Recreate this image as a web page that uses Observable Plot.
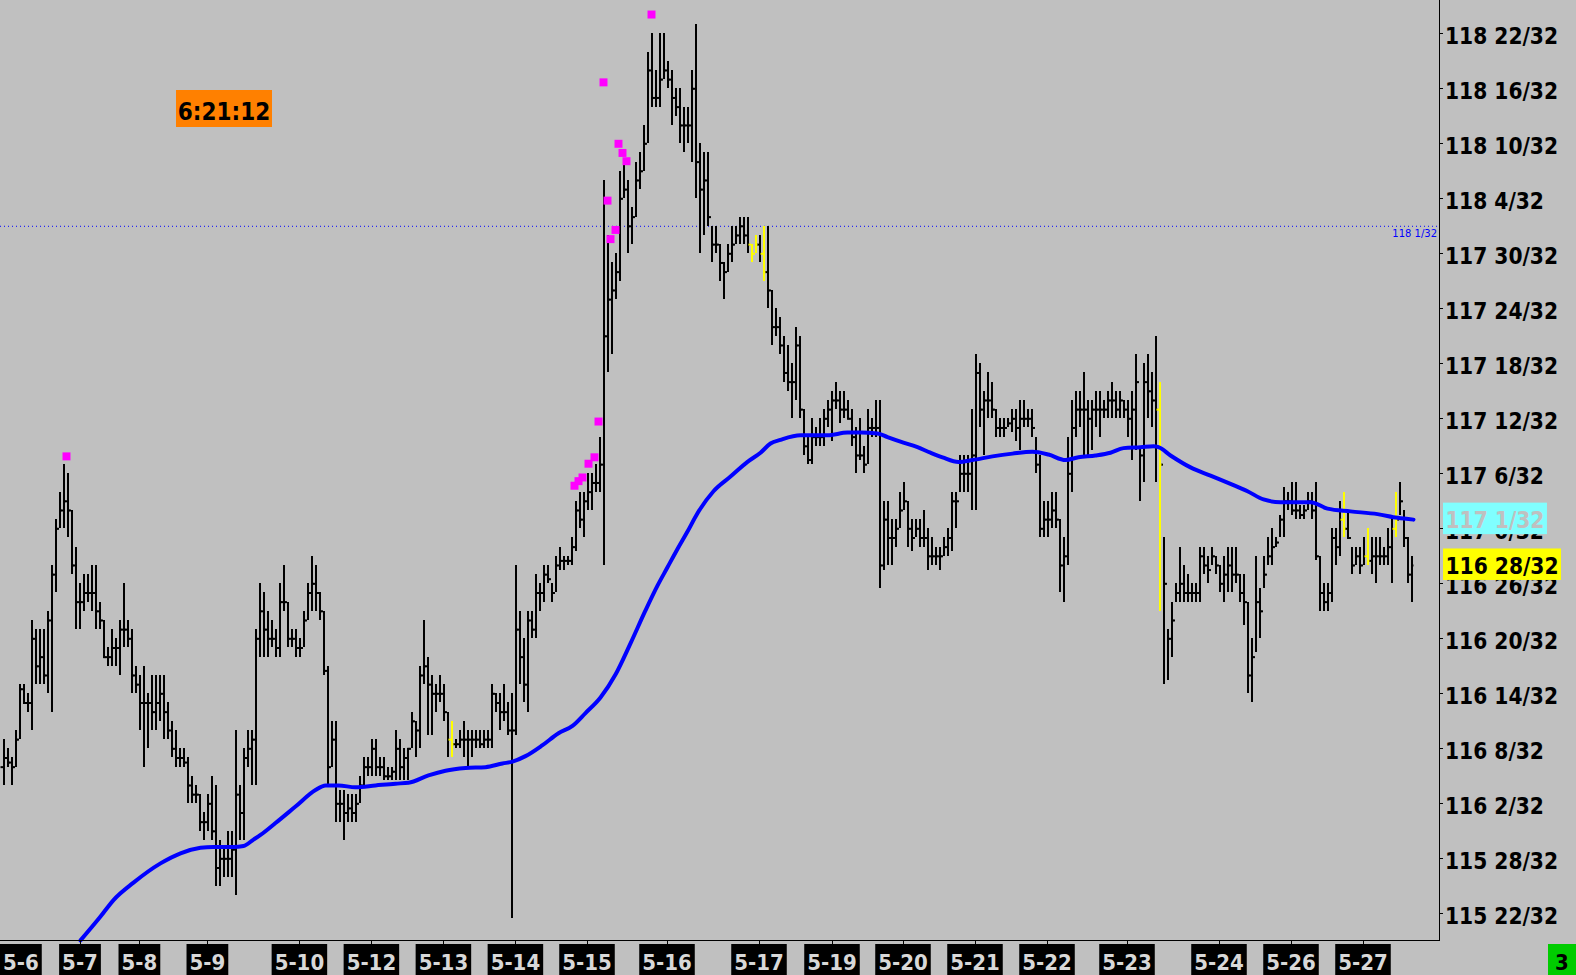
<!DOCTYPE html>
<html><head><meta charset="utf-8">
<script src="https://cdn.jsdelivr.net/npm/d3@7"></script>
<script src="https://cdn.jsdelivr.net/npm/@observablehq/plot@0.6"></script>
<style>
html,body{margin:0;padding:0;background:#c0c0c0;overflow:hidden}
#chart svg{display:block}
</style></head><body><div id="chart"></div>
<script>
// Prices are in 32nds above 115 (e.g. 60 -> 116 28/32). One entry per bar.
const highs = [41,40,39,42,47,47,46,54,53,53,53,55,60,65,68,71,70,66,62,58,59,59,60,60,56,54,51,53,52,54,58,54,53,49,48,49,46,48,48,48,48,45,43,42,40,40,39,37,36,35,33,35,37,36,30,29,31,31,42,36,40,42,42,53,
58,57,55,54,53,58,60,56,53,53,52,55,58,61,60,57,55,49,43,43,35.5,35.5,35,35,35,37,39,39,41,41,39,39,38,38,42,41,40,40,44,43,49,54,
50,48,47,48,47,44,43,41,42,43,42,42,42,42,42,42,47,46,46,47,45,46,60,55,52,55,55,59,58,60,60,58,61,62,61,61,63,67,68,68,70,70,71,74,
102,96,93,94,103,104,102,99,104,105,108,116,118,114,118,118,115,114,112,112,110,110,114,119,106,105,105,97,97,95,93,95,97,97,98,98,98,95,96,96,97,
97,90,88,87,85,84,82,86,85,77,74,76,75,76,77,78,79,80,79,79,78,77,75,76,73,77,76,78,78,67,67,65,65,68,69,67,65,65,65,66,64,
63,62,62,63,64,68,68,72,72,72,77,83,82,79,81,80,77,76,76,76,77,77,78,78,77,77,74,72,67,67,68,68,65,63,74,78,79,79,81,78,78,
79,79,78,79,80,79,79,78,78,79,83,73,82,83,81,85,80,63,53,56,58,62,60,59,58,58,62,62,61,62,61,60,61,62,62,62,59,59,56,52,61,
57.5,61,63,64,63,65.5,68.5,68,69,69,66.5,66.5,68,68,69,61,58,58,64,64,67,68,66,62,62,62,63,64,63,63,63,62,64,65,68,69,66,63,61];
const lows = [36,38,36,38,41,45,44,42,47,47,47,46,44,57,64,64,63,59,53,53,55,56,55,53,53,50,49,49,49,48,51,51,46,46,42,38,40,42,42,43,41,41,39,38,38,38,34,34,34,31,30,31,30,25,25,26,26,26,24,30,30,38,36,36,
50,50,50,51,50,50,55,51,51,50,50,51,54,55,55,54,48,36,38,32,32,30,32,32,32,34,36,37,37,37,37,36.5,36.5,36.5,36.5,36.5,36.5,36.5,40,39,40,47,
41.5,41.5,44,45,43,39,39,40,40,39,38,39,40,40,40,40,40,44,42,43,41.5,21.5,41.5,47,45,44,52,52,55,56,58,56,57,59.5,59.5,60,60,61.5,64,63,66,66,68,68,
60,81,83,89,91,100,94,95,98,101,103,106,110,110,110,113,112,108,109,106,105,106,104,100,94,96,97,93,94,91,89,92,93,95,95,95,94,93,94,93,91,
88,84,85,83,80,79,76,78,76,72,71,71,73,73,73,75,73.5,77,75.5,76,76,73,70,71.5,70,71,74,74,57.5,59.5,60,60,62,64,66,62,61.5,63,62,62,59.5,
60,60,59.5,61,61,61.5,64,68,68,68,66,66,75,72,76,76,74,74,74,75,74.5,73.5,72.5,75,75,74,70,63,63,63,64,64,57,56,60,68,74,75,72,72,72.5,
75,74,76,76,76,76,76,76,74,71.5,72.5,67,69,76,75,69,55,47,47.5,50,56,56,56,56,56,56,56,59,58,60,59,57,56,57,57,58,56,53.5,46,45,50.5,
52,57.5,60,60,62,63,63,66,65.5,65,65,65,66,65,60.5,55,55,55,56,60,61,63,63,59,60,59,60,60,59,58,60,60,60,58,63,65.5,62,58,56];
const closes = [39,38.5,38,41,46.5,45,45,52,49,50,48,54,59,64,66,67,66,60,56,56,57,57,57,55,54,50,50,51,51,53,53,52,48,47,45,45,45,44,45,46,44,42,40,39,39,38.5,36,35,35,32,32,34,31,27,28,28,28,29,35,33,39,40,41,52,
55,53,52,52,51,56,56,52,52,51,51,54,57,58,57,55,48.5,38,41,34,34,33,33.5,33,34,36,38,38,40,38,38,37,37,37.5,40,38,39,40,43,42,48,49,
47,46,46,46,44,41,40.5,40.5,41,41,41,41,41,40.5,41,41,46,45,44,44,42,42,53,50,47,54,53,57,57,59,58.5,57,60,60.5,60.5,60.5,62,66,65,67,68,69,69,71,
85,89,90,92,100,101,97,98,102,103,106,114,111,111,113,114,113,111,110,108,108,108,112,104,101,102,98,95,95,93,92,94,95,96,97,96,95,94,95,94,92,
90,86,86,84,81,80,80,84,77,73,71.5,74,74,74,76,77,78,78,77,77,76,74,72,72,71,75,75,75,60,65,63,63,64,66,67,64,63,64,63,63,61,
61,61,61,62,63,67,67,70,70,70,72,81,77,78,78,77,75,75,75,75.5,76,75,76,76,76,75,71,64,65,65,66,65,60,61,70,75,77,77,77,76,77,
77,77,77,78,78,77,78,77,76,77,80,72,80,79,78,77,71,58,52,54,57,58,57,57,57,57,61,60,59.5,61,60,58,59,60,59,59,57,56,48,50,56,
55,59,61,62,62.5,65,67,67,66,66,65.5,66,67,66,61,57,56,57,63,62,65,64,63,60,61,60,61,60.5,61,61,61,61,62,64,65,67,63,59,60];
const firstOpen = 38;
const yellowBars = [112,187,188,190,289,335,341,348];

// moving average (bar index, 32nds above 115)
const maIdx = [19.25,24.25,27.5,32.5,39.25,44.25,49.25,52.5,57.5,60,62.5,64.25,68,73,78,80.5,83.75,88,93,98,101.25,106.25,110.5,115.5,120.5,124.75,127.25,130.5,134.75,138.75,142.25,145.5,149.25,153,156.75,160.5,163.5,166,168.5,171,173.5,177.5,181.75,186,189.25,191.75,194.25,199.25,206,211,214.25,218.5,221,224.25,228.5,231.75,234.75,238.75,242.25,247.25,252.25,257.25,261.25,265.5,268.75,273,276.75,280,284.25,287.5,288.75,291.75,296.75,301.75,306.75,311,315,319.25,326.75,331,336.75,343.5,348.5,352.5];
const maVal = [19.1,21.7,23.5,25.4,27.5,28.6,29.2,29.3,29.3,29.4,30.1,30.6,31.9,33.7,35.5,36.0,36.0,35.8,36.0,36.2,36.3,37.1,37.6,37.9,38.0,38.4,38.6,39.2,40.4,41.7,42.5,43.9,45.6,48.1,51.5,55.1,57.8,59.8,61.8,63.7,65.7,68.1,69.7,71.3,72.3,73.3,73.7,74.2,74.2,74.5,74.5,74.4,74.0,73.5,72.9,72.3,71.8,71.3,71.5,71.9,72.2,72.4,72.1,71.5,71.8,72.0,72.3,72.8,72.9,73.0,72.9,72.0,70.7,69.8,68.9,68.1,67.2,66.9,66.9,66.2,65.9,65.6,65.2,65.0];

// magenta signal markers
const markIdx = [15.75,142.75,143.75,144.75,146.25,147.75,148.75,150,151,151.75,153,153.75,154.75,155.75,162];
const markVal = [71.9,68.7,69.2,69.6,71.1,71.8,75.7,112.7,99.8,95.6,96.6,106.0,105.0,104.1,120.1];

const refLevel = 97; // 118 1/32 dotted line
const yTickVals = [22,28,34,40,46,52,58,64,70,76,82,88,94,100,106,112,118];
const dateLabels = ["5-6","5-7","5-8","5-9","5-10","5-12","5-13","5-14","5-15","5-16","5-17","5-19","5-20","5-21","5-22","5-23","5-24","5-26","5-27"];
const dateIdx = [-3,19.25,34.1,51.1,74.1,92.1,110.1,128.1,146,166,189,207.25,225,243,261,281,304,322,340];
const clockText = "6:21:12";
const pageText = "3";

function fmt32(v){ return `${115 + Math.floor(v/32)} ${v - 32*Math.floor(v/32)}/32`; }

const bars = highs.map((h,i)=>({i, high:h, low:lows[i], close:closes[i], open: i ? closes[i-1] : firstOpen, yellow: yellowBars.includes(i)}));
const blackBars = bars.filter(d=>!d.yellow), yellowSet = bars.filter(d=>d.yellow);
const ma = maIdx.map((i,k)=>({i, v:maVal[k]}));
const sig = markIdx.map((i,k)=>({i, v:markVal[k]}));
const lastClose = closes[closes.length-1];
const lastMA = Math.round(maVal[maVal.length-1]);

const FONT = '"DejaVu Sans Condensed","DejaVu Sans",sans-serif';
const cnv = document.createElement("canvas").getContext("2d");
function tw(t, size){ cnv.font = `bold ${size}px ${FONT}`; return cnv.measureText(t).width; }

function decor(index, scales, values, dims){
  const {width, height, marginRight, marginBottom} = dims;
  const xr = width - marginRight, yb = height - marginBottom;
  const g = d3.create("svg:g").attr("text-anchor","start");
  // dotted level label
  g.append("text").attr("x", xr - 2).attr("y", scales.y(refLevel) + 11).attr("text-anchor","end")
    .attr("font-family",'"DejaVu Sans",sans-serif').attr("font-size",10).attr("fill","#0000ff").text(fmt32(refLevel));
  // axis lines
  g.append("line").attr("x1", xr+0.5).attr("x2", xr+0.5).attr("y1",0).attr("y2", yb+1).attr("stroke","#000");
  g.append("line").attr("x1", 0).attr("x2", xr+1).attr("y1", yb+0.5).attr("y2", yb+0.5).attr("stroke","#000");
  // y ticks + labels
  for (const v of yTickVals){
    const y = scales.y(v);
    g.append("line").attr("x1", xr+1).attr("x2", xr+4).attr("y1", Math.round(y)+0.5).attr("y2", Math.round(y)+0.5).attr("stroke","#000");
    g.append("text").attr("x", xr+6).attr("y", y+10.5).attr("text-anchor","start").attr("font-family",FONT).attr("font-weight","bold")
      .attr("font-size",22.5).attr("fill","#000").text(fmt32(v));
  }
  // date labels
  dateLabels.forEach((lab,k)=>{
    const cx = scales.x(dateIdx[k]);
    g.append("line").attr("x1", Math.round(cx)+0.5).attr("x2", Math.round(cx)+0.5).attr("y1", yb+1).attr("y2", yb+4).attr("stroke","#000");
    const w = tw(lab, 22) + 6;
    const bx = Math.max(0, cx - w/2);
    g.append("rect").attr("x", bx).attr("y", yb+4).attr("width", w).attr("height", height-yb-4).attr("fill","#000");
    g.append("text").attr("x", bx + w/2).attr("y", yb+30).attr("text-anchor","middle").attr("font-family",FONT)
      .attr("font-weight","bold").attr("font-size",22).attr("fill","#d8d8d8").text(lab);
  });
  // last-value boxes
  const boxes = [[lastMA, "#80ffff", "#c0c0c0"], [lastClose, "#ffff00", "#000"]];
  for (const [v, bg, fg] of boxes){
    const y = scales.y(v), t = fmt32(v), w = tw(t, 22.5) + 5;
    g.append("rect").attr("x", xr+4).attr("y", y-16.5).attr("width", w).attr("height", 31.5).attr("fill", bg);
    g.append("text").attr("x", xr+6.5).attr("y", y+8.8).attr("text-anchor","start").attr("font-family",FONT).attr("font-weight","bold")
      .attr("font-size",22.5).attr("fill",fg).text(t);
  }
  // clock box
  g.append("rect").attr("x",176).attr("y",90).attr("width",96).attr("height",37).attr("fill","#ff8000");
  g.append("text").attr("x",224).attr("y",119.5).attr("text-anchor","middle").attr("font-family",FONT)
    .attr("font-weight","bold").attr("font-size",24).attr("fill","#000").text(clockText);
  // page box
  g.append("rect").attr("x", width-28).attr("y", yb+4).attr("width",28).attr("height", height-yb-4).attr("fill","#00cc00");
  g.append("text").attr("x", width-14).attr("y", yb+30).attr("text-anchor","middle").attr("font-family",FONT)
    .attr("font-weight","bold").attr("font-size",22).attr("fill","#000").text(pageText);
  return g.node();
}

function barMarks(data, color){
  return [
    Plot.ruleX(data, {x:"i", y1:"low", y2:"high", stroke:color, strokeWidth:2, shapeRendering:"crispEdges"}),
    Plot.ruleY(data, {y:"open", x1:d=>d.i-0.62, x2:"i", stroke:color, strokeWidth:2}),
    Plot.ruleY(data, {y:"close", x1:"i", x2:d=>d.i+0.62, stroke:color, strokeWidth:2})
  ];
}

const chart = Plot.plot({
  width: 1576, height: 975,
  marginLeft: 0, marginRight: 137, marginTop: 0, marginBottom: 35,
  style: {background:"#c0c0c0", overflow:"visible"},
  x: {type:"linear", domain:[-0.75, 359], axis:null},
  y: {type:"linear", domain:[19.09, 121.63], axis:null},
  marks: [
    Plot.ruleY([refLevel], {stroke:"#0000ff", strokeWidth:1, strokeDasharray:"1 3"}),
    ...barMarks(blackBars, "#000000"),
    ...barMarks(yellowSet, "#ffff00"),
    Plot.line(ma, {x:"i", y:"v", stroke:"#0000ff", strokeWidth:4, curve:"monotone-x"}),
    Plot.dot(sig, {x:"i", y:"v", symbol:"square", r:4.5, fill:"#ff00ff", stroke:null}),
    decor
  ]
});
document.getElementById("chart").appendChild(chart);
</script></body></html>
